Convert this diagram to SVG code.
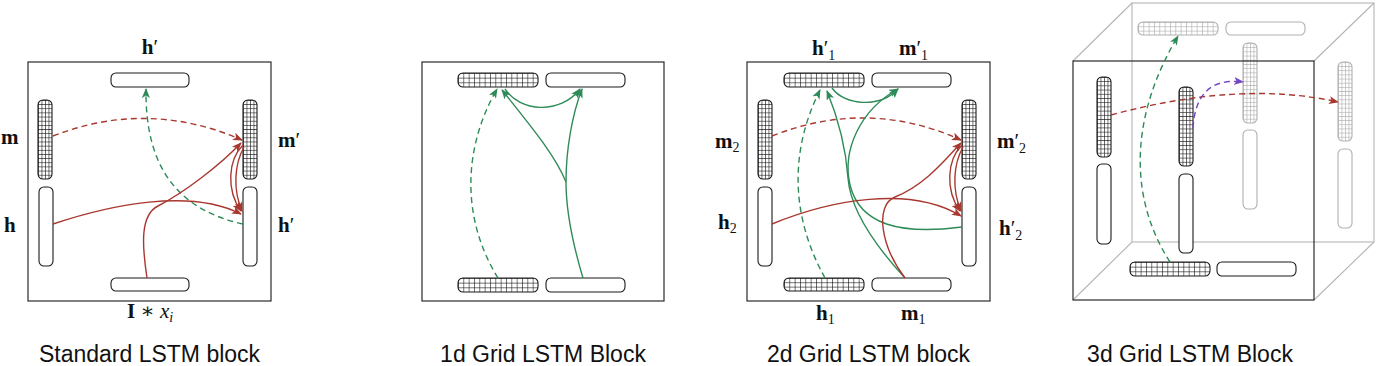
<svg xmlns="http://www.w3.org/2000/svg" width="1377" height="366" viewBox="0 0 1377 366">
<style>
.box{fill:none;stroke:#2a2a2a;stroke-width:1.2}
.gbox{fill:none;stroke:#b5b5b5;stroke-width:1.1}
.bar{fill:#fff;stroke:#1a1a1a;stroke-width:1.1}
.hv{fill:url(#patV);stroke:#1a1a1a;stroke-width:1.1}
.hh{fill:url(#patH);stroke:#1a1a1a;stroke-width:1.1}
.gbar{fill:#fff;stroke:#b0b0b0;stroke-width:1.1}
.ghv{fill:url(#patVg);stroke:#b0b0b0;stroke-width:1.1}
.ghh{fill:url(#patHg);stroke:#b0b0b0;stroke-width:1.1}
.lbl{font-family:"Liberation Serif","DejaVu Serif",serif;font-size:21px;font-weight:bold;fill:#111}
.sub{font-size:14px;font-weight:normal}
.it{font-style:italic;font-weight:normal}
.nw{font-weight:normal}
.cap{font-family:"Liberation Sans",Arial,sans-serif;font-size:23px;fill:#111;text-anchor:middle}
.r{fill:none;stroke:#a8382f;stroke-width:1.4;marker-end:url(#ar)}
.g{fill:none;stroke:#2e8b57;stroke-width:1.4;marker-end:url(#ag)}
.p{fill:none;stroke:#7447c2;stroke-width:1.4;marker-end:url(#ap)}
.d{stroke-dasharray:6 4}
</style>
<defs>
<pattern id="patV" patternUnits="objectBoundingBox" width="0.25" height="0.0526"><path d="M0,0.3H5M0.3,0V6" stroke="#111" stroke-width="0.7" fill="none"/></pattern>
<pattern id="patH" patternUnits="objectBoundingBox" width="0.0667" height="0.3333"><path d="M0,0.3H7M0.3,0V6" stroke="#111" stroke-width="0.7" fill="none"/></pattern>
<pattern id="patVg" patternUnits="objectBoundingBox" width="0.25" height="0.0526"><path d="M0,0.3H5M0.3,0V6" stroke="#aaa" stroke-width="0.7" fill="none"/></pattern>
<pattern id="patHg" patternUnits="objectBoundingBox" width="0.0667" height="0.3333"><path d="M0,0.3H7M0.3,0V6" stroke="#aaa" stroke-width="0.7" fill="none"/></pattern>
<marker id="ar" viewBox="0 0 10 8" refX="9" refY="4" markerWidth="10" markerHeight="8" orient="auto" markerUnits="userSpaceOnUse"><path d="M0,0L10,4L0,8L2.5,4z" fill="#a8382f"/></marker>
<marker id="ag" viewBox="0 0 10 8" refX="9" refY="4" markerWidth="10" markerHeight="8" orient="auto" markerUnits="userSpaceOnUse"><path d="M0,0L10,4L0,8L2.5,4z" fill="#2e8b57"/></marker>
<marker id="ap" viewBox="0 0 10 8" refX="9" refY="4" markerWidth="10" markerHeight="8" orient="auto" markerUnits="userSpaceOnUse"><path d="M0,0L10,4L0,8L2.5,4z" fill="#7447c2"/></marker>
</defs>
<rect width="1377" height="366" fill="#fff"/>

<!-- Panel 1: Standard LSTM block -->
<g id="p1-frame"><rect class="box" x="28" y="62" width="243" height="239"/></g>
<g id="p1-top"><rect class="bar" x="111" y="73" width="78" height="14" rx="5"/></g>
<g id="p1-bottom"><rect class="bar" x="111" y="278" width="78" height="13" rx="5"/></g>
<g id="p1-m"><rect class="hv" x="38" y="100" width="14" height="79" rx="5"/></g>
<g id="p1-h"><rect class="bar" x="39" y="187" width="14" height="79" rx="5"/></g>
<g id="p1-m2"><rect class="hv" x="243" y="100" width="14" height="79" rx="5"/></g>
<g id="p1-h2"><rect class="bar" x="243" y="187" width="14" height="79" rx="5"/></g>
<g id="p1-labels">
<text class="lbl" x="150" y="54" text-anchor="middle">h<tspan class="nw">′</tspan></text>
<text class="lbl" x="1" y="144">m</text>
<text class="lbl" x="4" y="232">h</text>
<text class="lbl" x="278" y="147">m<tspan class="nw">′</tspan></text>
<text class="lbl" x="278" y="232">h<tspan class="nw">′</tspan></text>
<text class="lbl" x="150" y="318" text-anchor="middle">I<tspan class="nw"> ∗ </tspan><tspan class="it">x</tspan><tspan class="sub it" dy="4">i</tspan></text>
</g>

<!-- Panel 2: 1d Grid LSTM -->
<g id="p2-frame"><rect class="box" x="422" y="62" width="242" height="239"/></g>
<g id="p2-top-m"><rect class="hh" x="458" y="73" width="80" height="14" rx="5"/></g>
<g id="p2-top-h"><rect class="bar" x="546" y="73" width="79" height="14" rx="5"/></g>
<g id="p2-bot-m"><rect class="hh" x="458" y="278" width="80" height="14" rx="5"/></g>
<g id="p2-bot-h"><rect class="bar" x="546" y="278" width="79" height="14" rx="5"/></g>

<!-- Panel 3: 2d Grid LSTM -->
<g id="p3-frame"><rect class="box" x="747" y="62" width="243" height="239"/></g>
<g id="p3-top-m"><rect class="hh" x="784" y="73" width="80" height="14" rx="5"/></g>
<g id="p3-top-h"><rect class="bar" x="872" y="73" width="79" height="14" rx="5"/></g>
<g id="p3-bot-m"><rect class="hh" x="784" y="278" width="80" height="13" rx="5"/></g>
<g id="p3-bot-h"><rect class="bar" x="872" y="278" width="79" height="13" rx="5"/></g>
<g id="p3-left-m"><rect class="hv" x="758" y="100" width="14" height="79" rx="5"/></g>
<g id="p3-left-h"><rect class="bar" x="758" y="187" width="14" height="79" rx="5"/></g>
<g id="p3-right-m"><rect class="hv" x="962" y="100" width="14" height="79" rx="5"/></g>
<g id="p3-right-h"><rect class="bar" x="962" y="187" width="14" height="79" rx="5"/></g>
<g id="p3-labels">
<text class="lbl" x="812" y="55">h<tspan class="nw">′</tspan><tspan class="sub" dy="5">1</tspan></text>
<text class="lbl" x="899" y="55">m<tspan class="nw">′</tspan><tspan class="sub" dy="5">1</tspan></text>
<text class="lbl" x="997" y="148">m<tspan class="nw">′</tspan><tspan class="sub" dy="5">2</tspan></text>
<text class="lbl" x="999" y="235">h<tspan class="nw">′</tspan><tspan class="sub" dy="5">2</tspan></text>
<text class="lbl" x="816" y="320">h<tspan class="sub" dy="4">1</tspan></text>
<text class="lbl" x="901" y="320">m<tspan class="sub" dy="4">1</tspan></text>
<text class="lbl" x="715" y="148">m<tspan class="sub" dy="4">2</tspan></text>
<text class="lbl" x="718" y="229">h<tspan class="sub" dy="4">2</tspan></text>
</g>

<!-- Panel 4: 3d Grid LSTM -->
<g id="p4-cube">
<rect class="gbox" x="1132" y="3" width="242" height="239"/>
<path class="gbox" d="M1073,61L1132,3M1314,61L1374,3M1073,300L1132,242M1314,300L1374,242"/>
</g>
<g id="p4-back-top-m"><rect class="ghh" x="1138" y="22" width="80" height="13" rx="5"/></g>
<g id="p4-back-top-h"><rect class="gbar" x="1226" y="22" width="79" height="13" rx="5"/></g>
<g id="p4-back-mid-m"><rect class="ghv" x="1243" y="43" width="14" height="80" rx="5"/></g>
<g id="p4-back-mid-h"><rect class="gbar" x="1243" y="130" width="14" height="79" rx="5"/></g>
<g id="p4-far-m"><rect class="ghv" x="1338" y="62" width="14" height="79" rx="5"/></g>
<g id="p4-far-h"><rect class="gbar" x="1338" y="149" width="14" height="79" rx="5"/></g>
<g id="p4-front"><rect class="box" x="1073" y="61" width="241" height="239"/></g>
<g id="p4-left-m"><rect class="hv" x="1097" y="77" width="14" height="80" rx="5"/></g>
<g id="p4-left-h"><rect class="bar" x="1097" y="164" width="14" height="80" rx="5"/></g>
<g id="p4-mid-m"><rect class="hv" x="1179" y="87" width="14" height="79" rx="5"/></g>
<g id="p4-mid-h"><rect class="bar" x="1179" y="174" width="14" height="79" rx="5"/></g>
<g id="p4-bot-m"><rect class="hh" x="1130" y="262" width="80" height="14" rx="5"/></g>
<g id="p4-bot-h"><rect class="bar" x="1217" y="262" width="79" height="14" rx="5"/></g>

<g id="connectors">
<!-- panel 1 -->
<path class="r d" d="M53,136Q148,99 242,140"/>
<path class="g d" d="M243,224C180,210 145,170 146,89"/>
<path class="r" d="M53,224C110,205 190,188 241,214"/>
<path class="r" d="M147,278C142,245 140,215 158,206C185,192 220,165 241,143"/>
<path class="r" d="M243,145C228,160 226,190 241,211"/>
<path class="r" d="M244,147C234,165 233,190 242,211"/>
<!-- panel 2 -->
<path class="g d" d="M498,278C462,220 462,150 497,89"/>
<path class="g" d="M583,278C574,248 566,215 566,182C566,150 572,115 582,89"/>
<path class="g" d="M566,182C555,155 530,125 502,90"/>
<path class="g" d="M505,89C520,112 560,115 580,89"/>
<!-- panel 3 -->
<path class="r d" d="M772,136Q868,98 961,140"/>
<path class="g d" d="M825,278C790,215 790,150 820,90"/>
<path class="g" d="M905,278C870,240 850,205 848,178C846,150 838,118 827,91"/>
<path class="g" d="M962,227C900,235 860,225 850,185C842,150 860,110 898,89"/>
<path class="g" d="M832,88C845,106 880,108 898,89"/>
<path class="r" d="M772,224C830,200 910,185 961,216"/>
<path class="r" d="M905,278C880,245 875,205 895,197C925,185 945,160 961,143"/>
<path class="r" d="M962,145C947,160 945,190 960,211"/>
<path class="r" d="M963,147C953,165 952,190 961,211"/>
<!-- panel 4 -->
<path class="g d" d="M1170,262C1130,200 1128,120 1178,36"/>
<path class="r d" d="M1111,115Q1240,80 1338,102"/>
<path class="p d" d="M1193,128C1195,95 1210,78 1243,82"/>
</g>

<g id="captions">
<text class="cap" x="149.5" y="362">Standard LSTM block</text>
<text class="cap" x="543" y="362">1d Grid LSTM Block</text>
<text class="cap" x="868.5" y="362">2d Grid LSTM block</text>
<text class="cap" x="1190" y="362">3d Grid LSTM Block</text>
</g>
</svg>
